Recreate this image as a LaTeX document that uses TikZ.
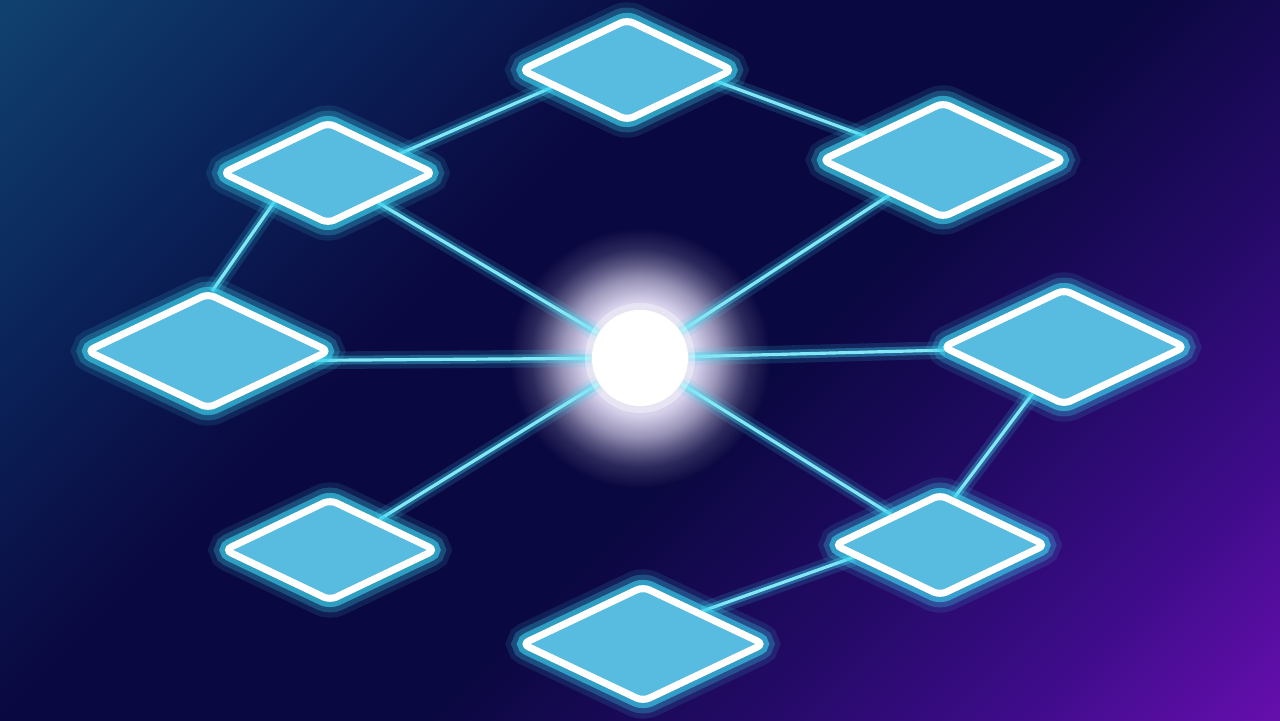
\documentclass[tikz,border=0pt]{standalone}
\usetikzlibrary{shapes.geometric,backgrounds}

\definecolor{bgteal}{RGB}{16,64,110}
\definecolor{bgblue}{RGB}{10,34,88}
\definecolor{bgnavy}{RGB}{10,8,64}
\definecolor{bgviolet}{RGB}{34,10,100}
\definecolor{bgpurple}{RGB}{62,12,138}
\definecolor{bgmagenta}{RGB}{100,14,172}
\definecolor{tile}{RGB}{88,188,224}
\definecolor{glow}{RGB}{60,212,240}
\definecolor{wire}{RGB}{130,232,245}
\definecolor{halo}{RGB}{232,226,250}

\pgfdeclarehorizontalshading{bgshade}{100bp}{color(0bp)=(bgteal); color(15bp)=(bgteal); color(28bp)=(bgblue); color(40bp)=(bgnavy); color(55bp)=(bgnavy); color(66bp)=(bgviolet); color(76bp)=(bgpurple); color(85bp)=(bgmagenta); color(100bp)=(bgmagenta)}
\pgfdeclareradialshading{haloshade}{\pgfpointorigin}{color(0bp)=(halo); color(11bp)=(halo!92!bgnavy); color(15bp)=(halo!65!bgnavy); color(18bp)=(halo!38!bgnavy); color(21bp)=(halo!15!bgnavy); color(25bp)=(bgnavy); color(50bp)=(bgnavy)}

\begin{document}
\begin{tikzpicture}[x=0.01cm,y=-0.01cm,
                main/.style = {diamond, draw=white, fill=tile, line width=2pt, rounded corners=2pt, inner sep=0pt,
                    minimum width=2.13cm, minimum height=1.03cm,
                    preaction={draw=glow, line width=11pt, draw opacity=.12},
                    preaction={draw=glow, line width=8pt, draw opacity=.25},
                    preaction={draw=glow, line width=5pt, draw opacity=.6}},
                big/.style = {main, minimum width=2.44cm, minimum height=1.17cm},
                hub/.style = {circle, fill=white, inner sep=0pt, minimum size=0.96cm,
                    preaction={draw=white, line width=4pt, draw opacity=.4}},
                conn/.style = {draw=wire, line width=0.9pt,
                    preaction={draw=glow, line width=5pt, draw opacity=.15},
                    preaction={draw=glow, line width=2.5pt, draw opacity=.35}}]
                \node[main] (top) at (627,70) {};
                \node[main] (tl) at (328,173) {};
                \node[big] (tr) at (943,160) {};
                \node[big] (l) at (208,351) {};
                \node[big] (r) at (1064,347) {};
                \node[main] (bl) at (330,550) {};
                \node[main] (br) at (940,545) {};
                \node[big] (bot) at (643,644) {};
                \node[hub] (hub) at (640,358) {};
                \begin{scope}[on background layer]
                    \shade[shading=bgshade, shading angle=-45] (0,0) rectangle (1280,720);
                    \shade[shading=haloshade] (hub.center) circle (1.3cm);
                    \path[every edge/.style={conn}]
                        (hub) edge (tl)
                        (hub) edge (tr)
                        (hub) edge (l.-5)
                        (hub) edge (r)
                        (hub) edge (bl)
                        (hub) edge (br)
                        (top.193) edge (tl.15)
                        (top.-7) edge (tr.163)
                        (tl.208) edge (l.86)
                        (r.236) edge (br.73)
                        (br.188) edge (bot.29);
                \end{scope}
            \end{tikzpicture}
\end{document}
